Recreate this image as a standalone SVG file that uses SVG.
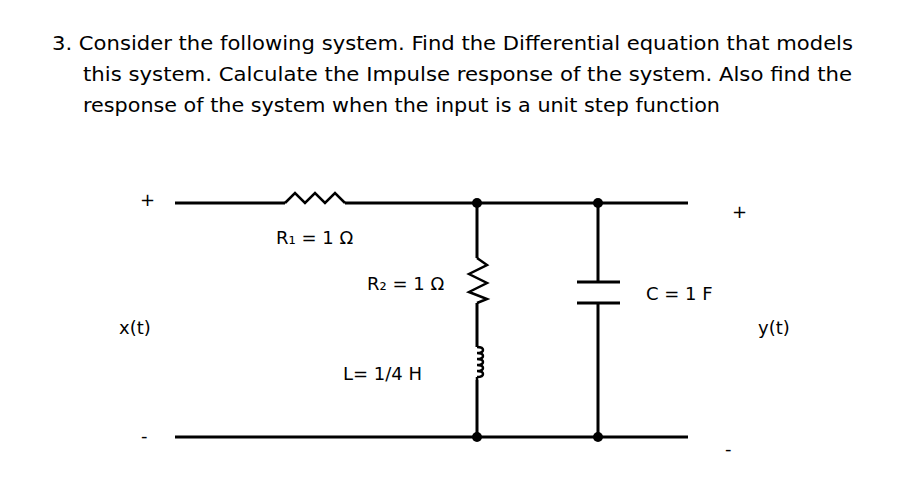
<svg xmlns="http://www.w3.org/2000/svg" width="911" height="491" viewBox="0 0 911 491">
<style>
.t{font-family:"DejaVu Sans",sans-serif;font-size:20px;fill:#000}
.l{font-family:"DejaVu Sans",sans-serif;font-size:18px;fill:#000}
.w{stroke:#000;stroke-width:3;fill:none}
.c{stroke:#000;stroke-width:2.5;fill:none}
</style>
<rect width="911" height="491" fill="#fff"/>
<g id="title">
<text class="t" x="52" y="50" textLength="801" lengthAdjust="spacingAndGlyphs">3.  Consider the following system. Find the Differential equation that models</text>
<text class="t" x="83" y="81" textLength="769" lengthAdjust="spacingAndGlyphs">this system. Calculate the Impulse response of the system. Also find the</text>
<text class="t" x="83" y="112" textLength="637" lengthAdjust="spacingAndGlyphs">response of the system when the input is a unit step function</text>
</g>
<g id="connectors">
<path class="w" d="M175 203H285M345 203H688M175 437H688"/>
<path class="w" d="M477 203V258M477 303V347M477 380V437"/>
<path class="w" d="M598 203V282M598 303V437"/>
</g>
<g id="R1"><path class="c" d="M285 203L295 193L305 203L315 193L325 203L335 193L345 203"/></g>
<g id="R2"><path class="c" d="M477 258L487 265L469 274L487 283L469 292L487 299L477 303"/></g>
<g id="L"><path class="c" d="M477 347c8 0 8 6 0 6c8 0 8 6 0 6c8 0 8 6 0 6c8 0 8 6 0 6c8 0 8 6 0 6M477 377V380"/></g>
<g id="C"><path class="w" d="M577 282H620M577 303H620"/></g>
<g id="nodes">
<circle cx="477" cy="203" r="5"/><circle cx="598" cy="203" r="5"/>
<circle cx="477" cy="437" r="5"/><circle cx="598" cy="437" r="5"/>
</g>
<g id="labels">
<text class="l" x="140" y="206">+</text>
<text class="l" x="141" y="442">-</text>
<text class="l" x="119" y="334">x(t)</text>
<text class="l" x="732" y="218">+</text>
<text class="l" x="725" y="455">-</text>
<text class="l" x="758" y="334">y(t)</text>
<text class="l" x="276" y="244">R₁ = 1 Ω</text>
<text class="l" x="367" y="290">R₂ = 1 Ω</text>
<text class="l" x="646" y="300">C = 1 F</text>
<text class="l" x="343" y="380">L= 1/4 H</text>
</g>
</svg>
